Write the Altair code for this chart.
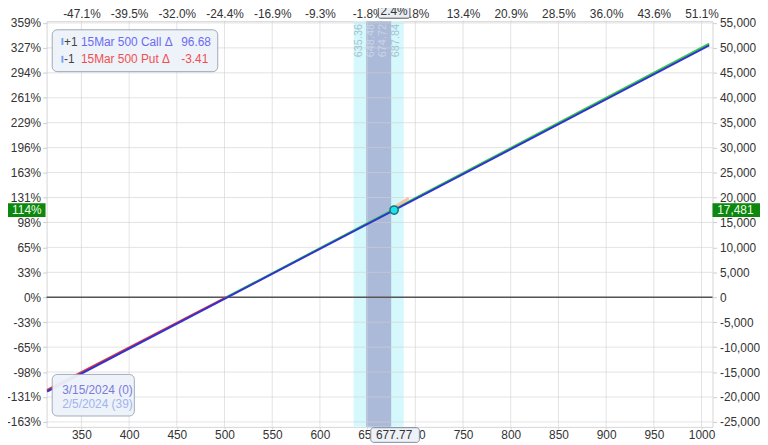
import altair as alt
import pandas as pd

# ---------------- data ----------------
x_ticks = [350, 400, 450, 500, 550, 600, 650, 700, 750, 800, 850, 900, 950, 1000]
x_move_labels = ["-47.1%", "-39.5%", "-32.0%", "-24.4%", "-16.9%", "-9.3%", "-1.8%",
                 "5.8%", "13.4%", "20.9%", "28.5%", "36.0%", "43.6%", "51.1%"]
y_ticks = [55000, 50000, 45000, 40000, 35000, 30000, 25000, 20000, 15000, 10000,
           5000, 0, -5000, -10000, -15000, -20000, -25000]
y_pct_labels = ["359%", "327%", "294%", "261%", "229%", "196%", "163%", "131%", "98%",
                "65%", "33%", "0%", "-33%", "-65%", "-98%", "-131%", "-163%"]
y_pnl_labels = ["55,000", "50,000", "45,000", "40,000", "35,000", "30,000", "25,000",
                "20,000", "15,000", "10,000", "5,000", "0", "-5,000", "-10,000",
                "-15,000", "-20,000", "-25,000"]

expiry_price = [314, 1008]
expiry_pnl = [-18900, 50500]
today_price = [314, 502, 1008]
today_pnl = [-18550, 0, 50850]

delta_price = [679.6, 693.1]
delta_pnl = [18250, 19840]

band_outer = [635.36, 687.84]
band_inner = [648.48, 674.72]

cur_price = 677.77
cur_pnl = 17481
cur_pct = "114%"
cur_move = "2.4%"
cur_pnl_label = "17,481"
cur_price_label = "677.77"

leg_qty = ["+1", "-1"]
leg_name = ["15Mar 500 Call Δ", "15Mar 500 Put Δ"]
leg_delta = ["96.68", "-3.41"]
dates = ["3/15/2024 (0)", "2/5/2024 (39)"]

# ---------------- helpers ----------------
FONT = "Liberation Sans"
xs = alt.Scale(domain=[313.5, 1011.5], nice=False, zero=False)
ys = alt.Scale(domain=[-25992, 55357], nice=False, zero=False)


def X(field="x", **kw):
    return alt.X(field, type="quantitative", scale=xs, axis=None, **kw)


def Y(field="y", **kw):
    return alt.Y(field, type="quantitative", scale=ys, axis=None, **kw)


def X2(field="x2"):
    return alt.X2(field)


def Y2(field="y2"):
    return alt.Y2(field)


def lookup_expr(values, labels):
    parts = [f"datum.value == {v} ? '{l}'" for v, l in zip(values, labels)]
    return " : ".join(parts) + " : ''"


axis_common = dict(grid=False, labelFont=FONT, labelFontSize=12, labelColor="#333333",
                   tickColor="#cccccc", domainColor="#d6d6d6", title=None,
                   labelOverlap=False, labelFlush=False, labelBound=False)

ax_bottom = alt.Axis(orient="bottom", values=x_ticks, format="d", tickSize=2,
                     labelPadding=1, **axis_common)
ax_top = alt.Axis(orient="top", values=x_ticks, labelExpr=lookup_expr(x_ticks, x_move_labels),
                  tickSize=1, labelPadding=0, **axis_common)
ax_left = alt.Axis(orient="left", values=y_ticks, labelExpr=lookup_expr(y_ticks, y_pct_labels),
                   tickSize=4, labelPadding=2, **axis_common)
ax_right = alt.Axis(orient="right", values=y_ticks, labelExpr=lookup_expr(y_ticks, y_pnl_labels),
                    tickSize=4, labelPadding=3, **axis_common)

# ---------------- layers ----------------
outer = alt.Chart(pd.DataFrame({"x": [band_outer[0]], "x2": [band_outer[1]]})).mark_rect(
    color="#d5f8fc").encode(x=X(), x2=X2())
inner = alt.Chart(pd.DataFrame({"x": [band_inner[0]], "x2": [band_inner[1]]})).mark_rect(
    color="#abbad9").encode(x=X(), x2=X2())

vgrid = alt.Chart(pd.DataFrame({"x": x_ticks})).mark_rule(
    color="#d0d0d0", opacity=0.6, strokeWidth=1).encode(
    x=alt.X("x:Q", scale=xs, axis=ax_bottom))
hgrid = alt.Chart(pd.DataFrame({"y": y_ticks})).mark_rule(
    color="#d0d0d0", opacity=0.6, strokeWidth=1).encode(
    y=alt.Y("y:Q", scale=ys, axis=ax_left))

lo_edges = pd.DataFrame({"x": [band_outer[0], band_inner[0]],
                         "t": [f"{band_outer[0]:.2f}", f"{band_inner[0]:.2f}"],
                         "c": ["outer", "inner"], "y": [54800, 54800]})
hi_edges = pd.DataFrame({"x": [band_inner[1], band_outer[1]],
                         "t": [f"{band_inner[1]:.2f}", f"{band_outer[1]:.2f}"],
                         "c": ["inner", "outer"], "y": [54800, 54800]})
edge_color = alt.Color("c:N", scale=alt.Scale(domain=["outer", "inner"],
                                               range=["#a6c2d2", "#cbd4e6"]), legend=None)
lo_text = alt.Chart(lo_edges).mark_text(angle=270, align="right", baseline="middle",
                                        dy=5, font=FONT, fontSize=11).encode(
    x=X(), y=Y(), text="t:N", color=edge_color)
hi_text = alt.Chart(hi_edges).mark_text(angle=270, align="right", baseline="middle",
                                        dy=-8, font=FONT, fontSize=11).encode(
    x=X(), y=Y(), text="t:N", color=edge_color)

zero = alt.Chart(pd.DataFrame({"y": [0]})).mark_rule(color="#555555", strokeWidth=1.5).encode(
    y=Y())

rows = []
for i in range(len(today_price) - 1):
    seg = "neg" if (today_pnl[i] + today_pnl[i + 1]) / 2 < 0 else "pos"
    rows.append({"x": today_price[i], "y": today_pnl[i], "seg": seg, "o": 2 * i})
    rows.append({"x": today_price[i + 1], "y": today_pnl[i + 1], "seg": seg, "o": 2 * i + 1})
today = alt.Chart(pd.DataFrame(rows)).mark_line(strokeWidth=2).encode(
    x=X(), y=Y(), order="o:Q",
    color=alt.Color("seg:N", scale=alt.Scale(domain=["neg", "pos"],
                                             range=["#e53935", "#2fcc45"]), legend=None))

expiry = alt.Chart(pd.DataFrame({"x": expiry_price, "y": expiry_pnl})).mark_line(
    color="#3232d2", strokeWidth=2).encode(
    x=alt.X("x:Q", scale=xs, axis=ax_top), y=alt.Y("y:Q", scale=ys, axis=ax_right))

delta_seg = alt.Chart(pd.DataFrame({"x": delta_price, "y": delta_pnl})).mark_line(
    color="#f6b896", strokeWidth=3, opacity=0.85).encode(x=X(), y=Y())

marker = alt.Chart(pd.DataFrame({"x": [cur_price], "y": [cur_pnl]})).mark_point(
    shape="circle", filled=True, size=70, fill="#19e3ee", stroke="#1f6f70",
    strokeWidth=1.5, opacity=1).encode(x=X(), y=Y())

# legend box (top-left)
leg_box = alt.Chart(pd.DataFrame({"x": [319.4], "x2": [492.9], "y": [53630], "y2": [45238]})).mark_rect(
    fill="#eef2f9", stroke="#9ea8b8", strokeWidth=1, cornerRadius=5).encode(
    x=X(), x2=X2(), y=Y(), y2=Y2())
leg_rows_y = [51190, 47817]
leg_bars = alt.Chart(pd.DataFrame({"x": [329.1, 329.1], "x2": [331.1, 331.1],
                                   "y": [51984, 48413], "y2": [50595, 47024]})).mark_rect(
    color="#78a0ee").encode(x=X(), x2=X2(), y=Y(), y2=Y2())
leg_qty_t = alt.Chart(pd.DataFrame({"x": [331.8, 331.8], "y": leg_rows_y, "t": leg_qty})).mark_text(
    align="left", baseline="middle", font=FONT, fontSize=12, color="#444444").encode(
    x=X(), y=Y(), text="t:N")
leg_col = alt.Color("k:N", scale=alt.Scale(domain=["call", "put"],
                                           range=["#6b6bf2", "#f04f4f"]), legend=None)
leg_name_t = alt.Chart(pd.DataFrame({"x": [349.5, 349.5], "y": leg_rows_y, "t": leg_name,
                                     "k": ["call", "put"]})).mark_text(
    align="left", baseline="middle", font=FONT, fontSize=12).encode(
    x=X(), y=Y(), text="t:N", color=leg_col)
leg_delta_t = alt.Chart(pd.DataFrame({"x": [454.6, 454.6], "y": leg_rows_y, "t": leg_delta,
                                      "k": ["call", "put"]})).mark_text(
    align="left", baseline="middle", font=FONT, fontSize=12).encode(
    x=X(), y=Y(), text="t:N", color=leg_col)

# date box (bottom-left)
date_box = alt.Chart(pd.DataFrame({"x": [319.4], "x2": [405.5], "y": [-15478], "y2": [-23811]})).mark_rect(
    fill="#eef2f9", stroke="#9ea8b8", strokeWidth=1, cornerRadius=5, opacity=0.95).encode(
    x=X(), x2=X2(), y=Y(), y2=Y2())
date_t = alt.Chart(pd.DataFrame({"x": [329.8, 329.8], "y": [-18652, -21430], "t": dates,
                                 "k": ["exp", "now"]})).mark_text(
    align="left", baseline="middle", font=FONT, fontSize=12).encode(
    x=X(), y=Y(), text="t:N",
    color=alt.Color("k:N", scale=alt.Scale(domain=["exp", "now"],
                                           range=["#7b7bdc", "#9fb5ee"]), legend=None))

# current price boxes
bot_box = alt.Chart(pd.DataFrame({"x": [cur_price - 24.5], "x2": [cur_price + 26.5],
                                  "y": [-26150], "y2": [-29100]})).mark_rect(
    fill="#eef2f8", stroke="#7f8a9a", strokeWidth=1, cornerRadius=3).encode(
    x=X(), x2=X2(), y=Y(), y2=Y2())
bot_t = alt.Chart(pd.DataFrame({"x": [cur_price], "y": [-27600], "t": [cur_price_label]})).mark_text(
    align="center", baseline="middle", font=FONT, fontSize=12, color="#333333").encode(
    x=X(), y=Y(), text="t:N")

top_box = alt.Chart(pd.DataFrame({"x": [cur_price - 16.6], "x2": [cur_price + 16.6],
                                  "y": [58730], "y2": [55952]})).mark_rect(
    fill="#e9eef5", stroke="#555555", strokeWidth=1, cornerRadius=2).encode(
    x=X(), x2=X2(), y=Y(), y2=Y2())
top_t = alt.Chart(pd.DataFrame({"x": [cur_price], "y": [57341], "t": [cur_move]})).mark_text(
    align="center", baseline="middle", font=FONT, fontSize=12, color="#333333").encode(
    x=X(), y=Y(), text="t:N")

lbox = alt.Chart(pd.DataFrame({"x": [273.0], "x2": [312.4], "y": [cur_pnl + 1370],
                               "y2": [cur_pnl - 1410]})).mark_rect(color="#0d870d").encode(
    x=X(), x2=X2(), y=Y(), y2=Y2())
lbox_t = alt.Chart(pd.DataFrame({"x": [292.8], "y": [cur_pnl], "t": [cur_pct]})).mark_text(
    align="center", baseline="middle", font=FONT, fontSize=12, color="#eaffea").encode(
    x=X(), y=Y(), text="t:N")
rbox = alt.Chart(pd.DataFrame({"x": [1011.5], "x2": [1061.3], "y": [cur_pnl + 1370],
                               "y2": [cur_pnl - 1410]})).mark_rect(color="#0d870d").encode(
    x=X(), x2=X2(), y=Y(), y2=Y2())
rbox_t = alt.Chart(pd.DataFrame({"x": [1035.5], "y": [cur_pnl], "t": [cur_pnl_label]})).mark_text(
    align="center", baseline="middle", font=FONT, fontSize=12, color="#eaffea").encode(
    x=X(), y=Y(), text="t:N")

chart = alt.layer(
    outer, inner, vgrid, hgrid, lo_text, hi_text, zero, today, expiry, delta_seg, marker,
    leg_box, leg_bars, leg_qty_t, leg_name_t, leg_delta_t, date_box, date_t,
    bot_box, bot_t, top_box, top_t, lbox, lbox_t, rbox, rbox_t
).resolve_scale(x="independent", y="independent", color="independent").properties(
    width=673, height=410,
    autosize=alt.AutoSizeParams(type="none"),
    padding={"left": 39, "top": 11, "right": 48, "bottom": 16},
    background="white"
).configure_view(stroke=None)

chart.save("out.html", embed_options={"renderer": "svg", "actions": False})
